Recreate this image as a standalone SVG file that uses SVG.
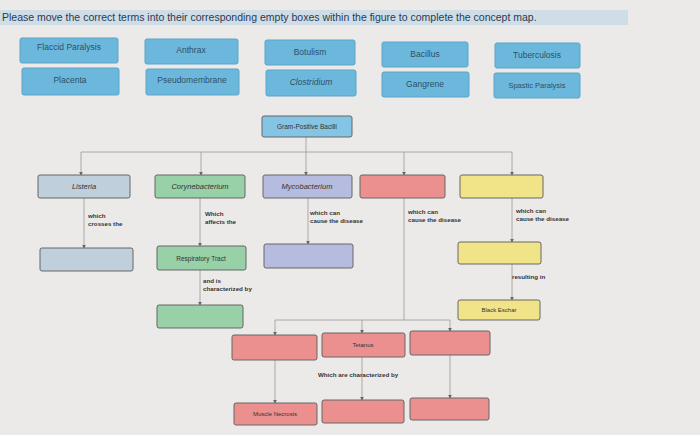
<svg xmlns="http://www.w3.org/2000/svg" width="700" height="435" viewBox="0 0 700 435">
<style>
text{font-family:"Liberation Sans",Arial,sans-serif;text-anchor:middle}
.t{fill:#6cb8dc;stroke:#5aa4c8;stroke-width:1}
.tt{font-size:8.5px;fill:#2f4f66}
.n{stroke:#666;stroke-width:1}
.nt{font-size:7.5px;fill:#333}
.l{font-size:6.2px;fill:#333;text-anchor:start;font-weight:bold}
.c{stroke:#999;stroke-width:0.8;fill:none}
.c line{stroke:#999;stroke-width:0.8}
.c line.a{marker-end:url(#a)}
</style>
<defs><marker id="a" viewBox="0 0 6 6" refX="5" refY="3" markerWidth="5" markerHeight="5" orient="auto"><path d="M0,0L6,3L0,6z" fill="#666"/></marker></defs>
<rect width="700" height="435" fill="#ebeae8"/>
<rect x="0" y="10" width="628" height="15" fill="#cfdde6"/>
<text x="2" y="21" style="font-size:10.5px;fill:#2a3a55;text-anchor:start">Please move the correct terms into their corresponding empty boxes within the figure to complete the concept map.</text>
<g id="terms">
<rect class="t" x="20" y="38" width="98" height="25" rx="2"/><text class="tt" x="69" y="50">Flaccid Paralysis</text>
<rect class="t" x="145" y="39" width="93" height="25" rx="2"/><text class="tt" x="191" y="53">Anthrax</text>
<rect class="t" x="265" y="40" width="90" height="25" rx="2"/><text class="tt" x="310" y="55">Botulism</text>
<rect class="t" x="382" y="42" width="86" height="25" rx="2"/><text class="tt" x="425" y="57">Bacillus</text>
<rect class="t" x="495" y="43" width="85" height="25" rx="2"/><text class="tt" x="537" y="58">Tuberculosis</text>
<rect class="t" x="22" y="68" width="97" height="27" rx="2"/><text class="tt" x="70" y="83">Placenta</text>
<rect class="t" x="146" y="69" width="93" height="26" rx="2"/><text class="tt" x="192" y="83">Pseudomembrane</text>
<rect class="t" x="266" y="70" width="90" height="26" rx="2"/><text class="tt" x="311" y="85" font-style="italic">Clostridium</text>
<rect class="t" x="382" y="72" width="87" height="25" rx="2"/><text class="tt" x="425" y="87">Gangrene</text>
<rect class="t" x="494" y="73" width="86" height="25" rx="2"/><text class="tt" x="537" y="88" style="font-size:7.5px">Spastic Paralysis</text>
</g>
<g id="connectors" class="c">
<line x1="306" y1="137" x2="306" y2="152"/>
<line x1="81" y1="152" x2="512" y2="152"/>
<line class="a" x1="81" y1="152" x2="81" y2="175"/>
<line class="a" x1="201" y1="152" x2="201" y2="175"/>
<line class="a" x1="306" y1="152" x2="306" y2="175"/>
<line class="a" x1="404" y1="152" x2="404" y2="175"/>
<line class="a" x1="512" y1="152" x2="512" y2="175"/>
<line class="a" x1="84" y1="198" x2="84" y2="248"/>
<line class="a" x1="200" y1="198" x2="200" y2="246"/>
<line class="a" x1="308" y1="198" x2="308" y2="244"/>
<line x1="404" y1="198" x2="404" y2="320"/>
<line class="a" x1="512" y1="198" x2="512" y2="242"/>
<line class="a" x1="512" y1="264" x2="512" y2="300"/>
<line class="a" x1="200" y1="270" x2="200" y2="305"/>
<line x1="275" y1="320" x2="450" y2="320"/>
<line class="a" x1="275" y1="320" x2="275" y2="335"/>
<line class="a" x1="362" y1="320" x2="362" y2="333"/>
<line class="a" x1="450" y1="320" x2="450" y2="331"/>
<line class="a" x1="275" y1="360" x2="275" y2="403"/>
<line class="a" x1="362" y1="357" x2="362" y2="400"/>
<line class="a" x1="450" y1="355" x2="450" y2="398"/>
</g>
<g id="n-root"><rect class="n" x="262" y="116" width="90" height="21" rx="2" fill="#84c4e4"/><text class="nt" x="307" y="129" style="font-size:6.5px">Gram-Positive Bacilli</text></g>
<g id="n-listeria"><rect class="n" x="38" y="175" width="92" height="23" rx="2" fill="#bfcfdc"/><text class="nt" x="84" y="189" font-style="italic">Listeria</text></g>
<g id="n-cory"><rect class="n" x="155" y="175" width="90" height="23" rx="2" fill="#98d0a8"/><text class="nt" x="200" y="189" font-style="italic">Corynebacterium</text></g>
<g id="n-myco"><rect class="n" x="263" y="175" width="89" height="23" rx="2" fill="#b6bce0"/><text class="nt" x="307" y="189" font-style="italic">Mycobacterium</text></g>
<g id="n-red"><rect class="n" x="360" y="175" width="85" height="23" rx="2" fill="#ec8f8f"/></g>
<g id="n-yellow"><rect class="n" x="460" y="175" width="83" height="23" rx="2" fill="#f1e488"/></g>
<text class="l" x="88" y="218">which</text><text class="l" x="88" y="226">crosses the</text>
<text class="l" x="205" y="216">Which</text><text class="l" x="205" y="224">affects the</text>
<text class="l" x="310" y="215">which can</text><text class="l" x="310" y="223">cause the disease</text>
<text class="l" x="408" y="214">which can</text><text class="l" x="408" y="222">cause the disease</text>
<text class="l" x="516" y="213">which can</text><text class="l" x="516" y="221">cause the disease</text>
<g id="n-grey2"><rect class="n" x="40" y="248" width="93" height="23" rx="2" fill="#bfcfdc"/></g>
<g id="n-resp"><rect class="n" x="157" y="246" width="89" height="24" rx="2" fill="#98d0a8"/><text class="nt" x="201" y="261" style="font-size:6.5px">Respiratory Tract</text></g>
<g id="n-lav2"><rect class="n" x="264" y="244" width="89" height="24" rx="2" fill="#b6bce0"/></g>
<g id="n-yellow2"><rect class="n" x="458" y="242" width="83" height="22" rx="2" fill="#f1e488"/></g>
<text class="l" x="512" y="279">resulting in</text>
<g id="n-escher"><rect class="n" x="458" y="300" width="82" height="20" rx="2" fill="#f1e488"/><text class="nt" x="499" y="312" style="font-size:6px">Black Eschar</text></g>
<text class="l" x="203" y="283">and is</text><text class="l" x="203" y="291">characterized by</text>
<g id="n-green3"><rect class="n" x="157" y="305" width="86" height="23" rx="2" fill="#98d0a8"/></g>
<g id="n-r1"><rect class="n" x="232" y="335" width="85" height="25" rx="2" fill="#ec8f8f"/></g>
<g id="n-tetanus"><rect class="n" x="322" y="333" width="83" height="24" rx="2" fill="#ec8f8f"/><text class="nt" x="363" y="347" style="font-size:6px">Tetanus</text></g>
<g id="n-r3"><rect class="n" x="410" y="331" width="80" height="24" rx="2" fill="#ec8f8f"/></g>
<text class="l" x="318" y="377">Which are characterized by</text>
<g id="n-necrosis"><rect class="n" x="234" y="403" width="83" height="22" rx="2" fill="#ec8f8f"/><text class="nt" x="275" y="416" style="font-size:6px">Muscle Necrosis</text></g>
<g id="n-r5"><rect class="n" x="322" y="400" width="82" height="23" rx="2" fill="#ec8f8f"/></g>
<g id="n-r6"><rect class="n" x="410" y="398" width="79" height="22" rx="2" fill="#ec8f8f"/></g>
</svg>
